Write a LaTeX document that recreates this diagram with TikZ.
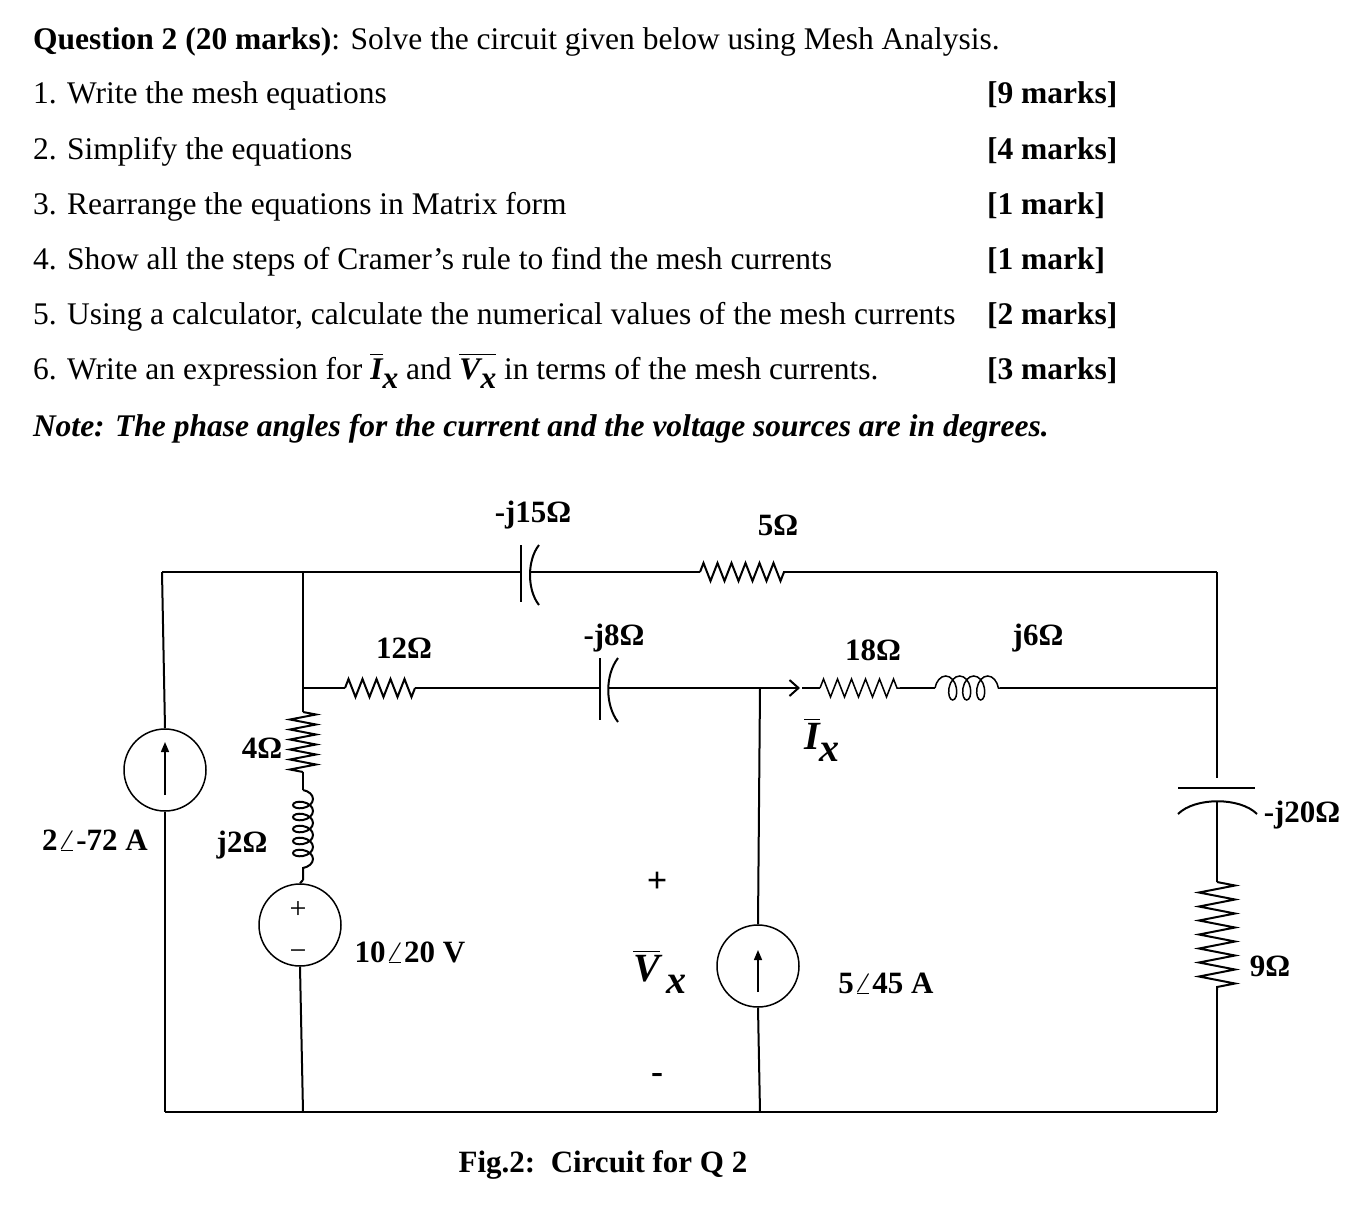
\documentclass[tikz,border=0pt]{standalone}
\usepackage{amsmath,bm}
\usepackage{fontspec}
\setmainfont{Liberation Serif}
\usetikzlibrary{decorations.pathmorphing,arrows.meta}
\newcommand{\barvar}[2]{$\overline{\mbox{\bfseries\itshape #1}}$\raisebox{-0.3em}{\bfseries\itshape #2}}
\begin{document}
\begin{tikzpicture}[x=1pt,y=-1pt,line width=2pt,
  txt/.style={anchor=base west,inner sep=0pt,font=\fontsize{31.5}{34}\selectfont},
  lbl/.style={inner sep=0pt,font=\fontsize{31}{34}\selectfont\bfseries},
  res/.style={decorate,decoration={zigzag,amplitude=9,segment length=14}},
  coil/.style={decorate,decoration={coil,amplitude=10,segment length=12,aspect=0.6}},
  src/.style={circle,draw,line width=1.5pt,minimum size=82pt,inner sep=0pt}]
\useasboundingbox (0,0) rectangle (1362,1212);
% text
\node[txt] at (32,50) {\textbf{Question 2 (20 marks)}: Solve the circuit given below using Mesh Analysis.};
\node[txt] at (32,104) {1. Write the mesh equations};
\node[txt] at (32,159) {2. Simplify the equations};
\node[txt] at (32,214) {3. Rearrange the equations in Matrix form};
\node[txt] at (32,269) {4. Show all the steps of Cramer’s rule to find the mesh currents};
\node[txt] at (32,324) {5. Using a calculator, calculate the numerical values of the mesh currents};
\node[txt] at (32,379) {6. Write an expression for \barvar{I}{x} and $\overline{\mbox{\bfseries\itshape V\raisebox{-0.3em}{x}}}$ in terms of the mesh currents.};
\node[txt] at (32,436) {\textbf{\itshape Note: The phase angles for the current and the voltage sources are in degrees.}};
\foreach \y/\m in {104/{[9 marks]},159/{[4 marks]},214/{[1 mark]},269/{[1 mark]},324/{[2 marks]},379/{[3 marks]}}
  \node[txt] at (986,\y) {\textbf{\m}};
% coordinates
\coordinate (TL) at (162,572); \coordinate (TR) at (1217,572);
\coordinate (BL) at (165,1112); \coordinate (BR) at (1217,1112);
\coordinate (N1) at (303,572); \coordinate (N2) at (303,688);
\coordinate (N3) at (760,688); \coordinate (N4) at (1217,688);
\coordinate (N5) at (303,1112); \coordinate (N6) at (760,1112);
% left current source
\node[src] (cs1) at (165,770) {};
\draw (TL) -- (cs1.north); \draw (cs1.south) -- (BL);
\draw[line width=1.5pt,-{Triangle[length=10pt,width=8pt]}] (165,795) -- (165,742);
\node[lbl] at (95,840) {2$\bm{\angle}$-72 A};
% top wire with cap and 5 ohm
\draw (TL) -- (521,572);
\draw (521,545) -- (521,602);
\draw (539,545) .. controls (527,560) and (527,590) .. (539,605);
\draw (530,572) -- (700,572);
\draw[res] (700,572) -- (785,572);
\draw (785,572) -- (TR);
\node[lbl] at (533,515) {-j15Ω};
\node[lbl] at (778,525) {5Ω};
% middle vertical branch
\draw (N1) -- (N2) -- (303,712);
\draw[res,decoration={amplitude=13,segment length=10}] (303,712) -- (303,772);
\draw (303,772) -- (303,790);
\draw[coil] (303,790) -- (303,880);
\node[src] (vs) at (300,925) {};
\draw (303,880) -- (vs.north); \draw (vs.south) -- (N5);
\node[font=\fontsize{30}{30}\selectfont,inner sep=0pt] at (298,910) {+};
\node[font=\fontsize{30}{30}\selectfont,inner sep=0pt] at (298,955) {−};
\node[lbl] at (262,748) {4Ω};
\node[lbl] at (242,845) {j2Ω};
\node[lbl] at (410,952) {10$\bm{\angle}$20 V};
% middle horizontal branch
\draw (N2) -- (345,688);
\draw[res] (345,688) -- (415,688);
\draw (415,688) -- (600,688);
\draw (600,658) -- (600,720);
\draw (618,658) .. controls (605,675) and (605,705) .. (618,722);
\draw (609,688) -- (N3);
\draw[-{Straight Barb[length=9pt,width=16pt]}] (N3) -- (800,688);
\draw[line width=1.2pt] (802,688) -- (820,688);
\draw[res,line width=1.5pt] (820,688) -- (900,688);
\draw (900,688) -- (935,688);
\draw[coil,decoration={amplitude=12,segment length=14,aspect=0.6},line width=1.5pt] (935,688) -- (1000,688);
\draw (1000,688) -- (N4);
\node[lbl] at (404,648) {12Ω};
\node[lbl] at (614,638) {-j8Ω};
\node[lbl] at (873,650) {18Ω};
\node[lbl] at (1038,638) {j6Ω};
\node[lbl,font=\fontsize{40}{40}\selectfont] at (822,740) {\barvar{I}{x}};
% dependent current source branch
\node[src] (cs2) at (758,966) {};
\draw (N3) -- (cs2.north); \draw (cs2.south) -- (N6);
\draw[line width=1.5pt,-{Triangle[length=10pt,width=8pt]}] (758,992) -- (758,950);
\node[lbl] at (886,983) {5$\bm{\angle}$45 A};
% Vx
\node[lbl,font=\fontsize{36}{36}\selectfont\bfseries] at (657,882) {+};
\node[lbl,font=\fontsize{40}{40}\selectfont] at (660,972) {\barvar{V}{\,x}};
\node[lbl,font=\fontsize{36}{36}\selectfont\bfseries] at (657,1078) {-};
% right branch
\draw (TR) -- (N4) -- (1217,778);
\draw (1178,788) -- (1255,788);
\draw (1178,814) .. controls (1195,797) and (1240,797) .. (1257,814);
\draw (1217,802) -- (1217,882);
\draw[res,decoration={amplitude=18,segment length=14}] (1217,882) -- (1217,990);
\draw (1217,990) -- (BR);
\node[lbl] at (1302,815) {-j20Ω};
\node[lbl] at (1270,966) {9Ω};
% bottom wire
\draw (BL) -- (BR);
\node[lbl] at (603,1165) {Fig.2:\ \ Circuit for Q 2};
\end{tikzpicture}
\end{document}
